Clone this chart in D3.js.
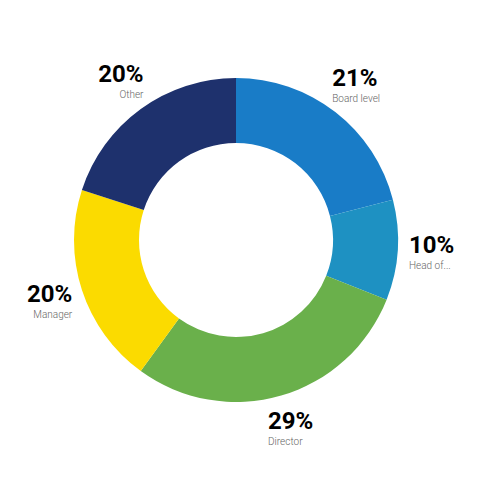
<!DOCTYPE html>
<html>
<head>
<meta charset="utf-8">
<script src="https://cdnjs.cloudflare.com/ajax/libs/d3/7.8.5/d3.min.js"></script>
<style>
  html, body { margin: 0; padding: 0; background: #fff; }
</style>
</head>
<body>
<div id="chart"></div>
<script>
// data
const categories = ['Board level', 'Head of...', 'Director', 'Manager', 'Other'];
const values = [21, 10, 29, 20, 20];
const colors = ['#197cc7', '#1e91c2', '#6ab04b', '#fbdb00', '#1e316d'];

const width = 480;
const height = 480;
const cx = 236;
const cy = 240;

const dataSet = categories.map(function (name, i) {
  return { id: i, name: name, value: values[i] };
});

const svg = d3.select('#chart')
  .append('svg')
  .attr('width', width)
  .attr('height', height)
  .append('g')
  .attr('transform', 'translate(' + cx + ',' + cy + ')');

// pie layout, clockwise from 12 o'clock
const pie = d3.pie()
  .value(function (d) { return d.value; })
  .sort(null);

const arc = d3.arc()
  .innerRadius(97)
  .outerRadius(162);

// centre of each label block
const labelArc = d3.arc()
  .innerRadius(196)
  .outerRadius(196);

const pieData = pie(dataSet);

svg.selectAll('path')
  .data(pieData)
  .enter()
  .append('path')
  .attr('d', arc)
  .attr('fill', function (d) { return colors[d.data.id]; });

const total = d3.sum(values);

const label_g = svg.selectAll('g.label')
  .data(pieData)
  .enter()
  .append('g')
  .attr('class', 'label')
  .attr('transform', function (d) {
    const c = labelArc.centroid(d);
    return 'translate(' + c[0] + ',' + c[1] + ')';
  });

label_g.append('text')
  .attr('class', 'pct')
  .attr('y', 1)
  .attr('font-family', 'Roboto, "Liberation Sans", sans-serif')
  .attr('font-weight', 700)
  .attr('font-size', '24px')
  .attr('fill', '#000')
  .text(function (d) { return Math.round(d.value / total * 100) + '%'; });

label_g.append('text')
  .attr('class', 'sub')
  .attr('y', 17)
  .attr('font-family', 'Roboto, "Liberation Sans", sans-serif')
  .attr('font-weight', 300)
  .attr('font-size', '10px')
  .attr('fill', '#666')
  .text(function (d) { return d.data.name; });

// block is centred on the point; lines align left on the right side, right on the left side
label_g.each(function (d) {
  const g = d3.select(this);
  const texts = g.selectAll('text');
  const widths = texts.nodes().map(function (n) { return n.getComputedTextLength(); });
  const w = d3.max(widths);
  const mid = (d.startAngle + d.endAngle) / 2;
  texts.attr('x', function (t, i) {
    return mid < Math.PI ? -w / 2 : w / 2 - widths[i];
  });
});
</script>
</body>
</html>
